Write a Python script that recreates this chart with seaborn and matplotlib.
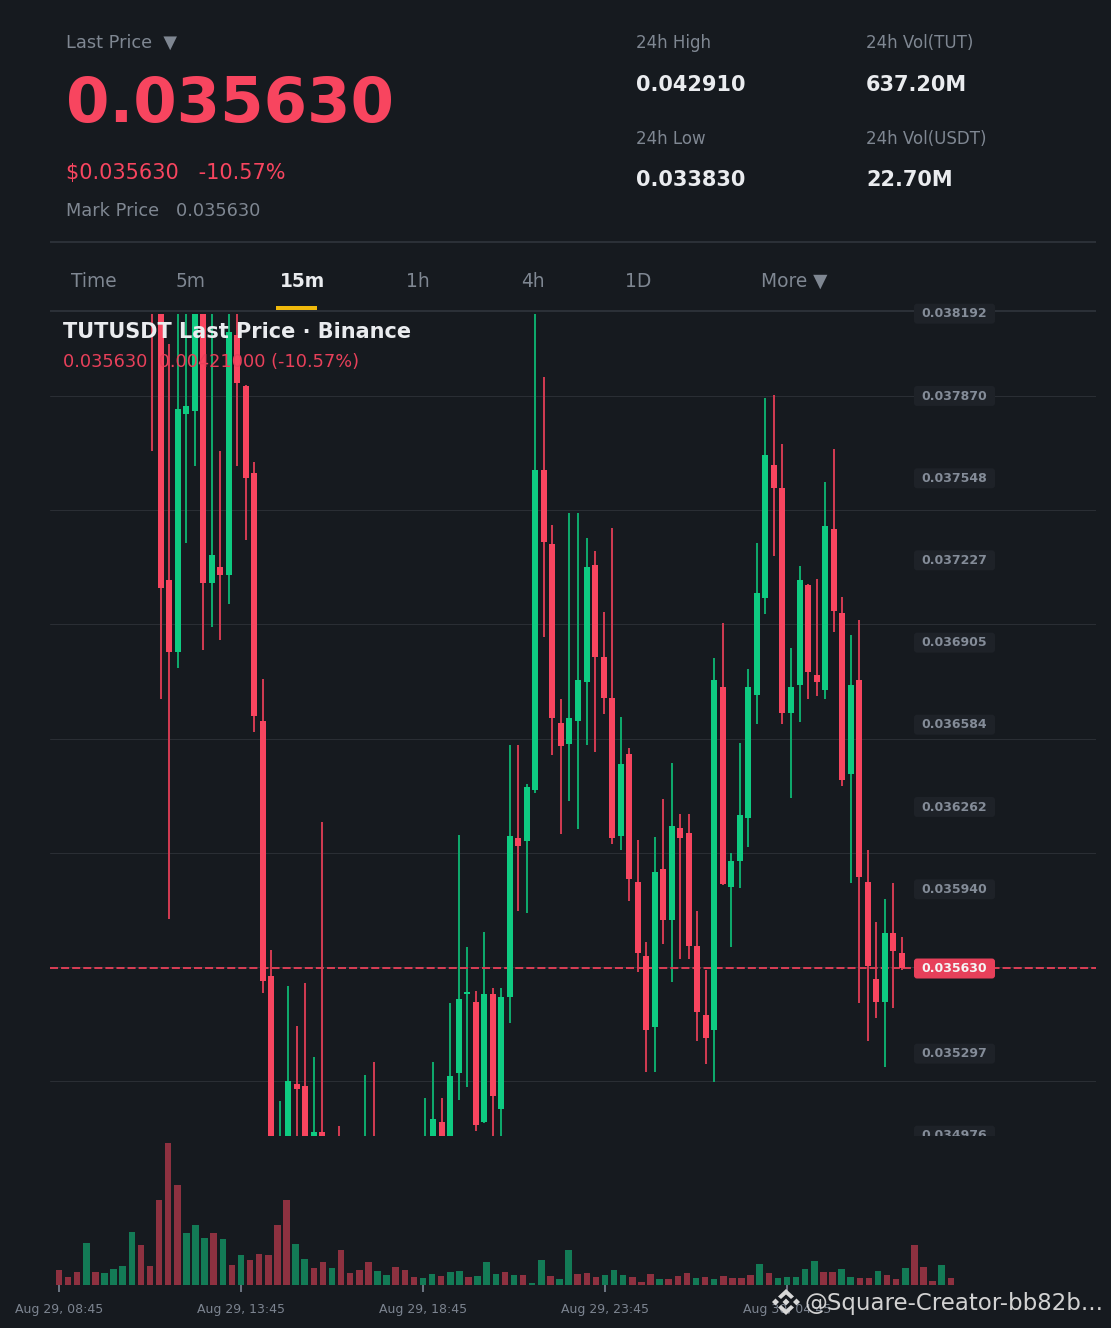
import numpy as np
import pandas as pd
import seaborn as sns
import matplotlib
matplotlib.use("Agg")
import matplotlib.pyplot as plt
from matplotlib.patches import FancyBboxPatch, Polygon
from matplotlib.transforms import IdentityTransform

W, H = 1111, 1328
BG = "#161A1F"
RED = "#F8455F"
GREEN = "#0ECB81"
RED_WICK = "#CE3A50"
GREEN_WICK = "#0EA86B"
MUTED = "#7F8792"
WHITE = "#EAECEF"

# candle prices in millionths of USDT
candle_open = [38280, 38220, 37147, 36866, 37797, 37809, 38240, 37136, 37198, 37167,
               38106, 37906, 37566, 36596, 35598, 34900, 34930, 35176, 35168, 34940,
               34988, 34950, 34960, 34900, 34930, 34900, 34950, 34910, 34890, 34900,
               34930, 34900, 34900, 34900, 35027, 34920, 35219, 35528, 35497, 35027,
               35528, 35078, 35516, 36138, 36127, 36326, 37578, 37289, 36588, 36506,
               36596, 36749, 37206, 36847, 36686, 36146, 36467, 35966, 35677, 35399,
               36017, 35818, 36177, 36158, 35716, 35446, 35387, 36729, 35947, 36048,
               36217, 36698, 37077, 37598, 37508, 36627, 36737, 37128, 36776, 36717,
               37347, 37019, 36389, 36757, 35966, 35587, 35497, 35767, 35688]
candle_high = [38300, 38280, 38071, 38250, 38230, 38260, 38280, 38220, 37652, 38230,
               38220, 37910, 37609, 36760, 35700, 35109, 35559, 35403, 35571, 35281,
               36201, 34960, 35011, 34950, 34950, 35211, 35262, 34950, 34950, 34950,
               34960, 34950, 35121, 35262, 35121, 35493, 36150, 35712, 35540, 35771,
               35551, 35551, 36502, 36502, 36350, 38200, 37942, 37363, 36682, 37410,
               37410, 37312, 37261, 37023, 37351, 36612, 36490, 36131, 35731, 36142,
               36291, 36432, 36232, 36232, 35853, 35622, 36843, 36980, 36080, 36510,
               36800, 37292, 37860, 37872, 37680, 36882, 37203, 37132, 37152, 37531,
               37660, 37081, 36933, 36991, 36091, 35810, 35900, 35962, 35751]
candle_low = [37652, 36683, 35821, 36803, 37292, 37593, 36873, 36963, 36913, 37054,
              37593, 37304, 36553, 35532, 34900, 34880, 34900, 34940, 34900, 34900,
              34900, 34900, 34880, 34880, 34870, 34860, 34870, 34870, 34860, 34870,
              34880, 34870, 34870, 34880, 34890, 34890, 35113, 35164, 34992, 35023,
              34950, 34950, 35415, 35853, 35845, 36314, 36925, 36463, 36154, 36283,
              36174, 36502, 36475, 36623, 36115, 36091, 35892, 35614, 35223, 35223,
              35724, 35575, 35665, 35665, 35344, 35254, 35184, 35955, 35712, 35943,
              36103, 36584, 37015, 37242, 36584, 36295, 36592, 36682, 36694, 36682,
              36944, 36342, 35962, 35493, 35344, 35434, 35242, 35473, 35622]
candle_close = [38220, 37117, 36866, 37816, 37828, 38230, 37136, 37245, 37167, 38118,
                37918, 37547, 36615, 35579, 34940, 34960, 35187, 35156, 34950, 34988,
                34950, 34930, 34920, 34930, 34900, 34950, 34910, 34890, 34920, 34930,
                34900, 34930, 34950, 35039, 34920, 35207, 35508, 35536, 35015, 35528,
                35129, 35516, 36146, 36107, 36338, 37578, 37296, 36608, 36498, 36608,
                36757, 37198, 36847, 36686, 36138, 36428, 35978, 35688, 35387, 36005,
                35818, 36185, 36138, 35716, 35458, 35356, 36757, 35958, 36048, 36228,
                36729, 37097, 37637, 37508, 36627, 36729, 37147, 36788, 36749, 37359,
                37026, 36365, 36737, 35986, 35638, 35497, 35767, 35696, 35630]

# volume bar heights (arbitrary units, no scale shown on the chart)
volume = [15, 8, 13, 42, 13, 12, 16, 19, 53, 40,
          19, 85, 142, 100, 52, 60, 47, 52, 46, 20,
          30, 25, 31, 30, 60, 85, 41, 26, 17, 23,
          17, 35, 12, 15, 23, 14, 10, 18, 15, 8,
          7, 11, 9, 13, 14, 8, 9, 23, 11, 13,
          10, 10, 2, 25, 9, 6, 35, 11, 12, 8,
          10, 15, 10, 8, 3, 11, 6, 6, 9, 12,
          7, 8, 6, 9, 7, 7, 10, 21, 12, 7,
          8, 8, 16, 24, 13, 13, 16, 8, 7, 7,
          14, 10, 6, 17, 40, 18, 4, 20, 7]
red_bars = [0, 1, 2, 4, 9, 10, 11, 12, 13, 17, 19, 21, 22, 23, 24, 25, 28, 29, 31, 32, 33, 34,
            37, 38, 39, 42, 45, 49, 51, 54, 57, 58, 59, 63, 64, 65, 67, 68, 69, 71, 73, 74, 75,
            76, 78, 84, 85, 88, 89, 91, 92, 94, 95, 96, 98]
volume_dir = ["down" if i in red_bars else "up" for i in range(len(volume))]

grid_prices = [37868, 37421, 36974, 36527, 36080, 35633, 35186]
axis_labels = [38192, 37870, 37548, 37227, 36905, 36584, 36262, 35940, 35297, 34976]
last_price = 35630

time_ticks = [0, 20, 40, 60, 80]
time_labels = ["Aug 29, 08:45", "Aug 29, 13:45", "Aug 29, 18:45", "Aug 29, 23:45", "Aug 30, 04:45"]

sns.set_theme(style="dark", rc={"axes.facecolor": BG, "figure.facecolor": BG,
                                "savefig.facecolor": BG, "axes.grid": False})
plt.rcParams["font.family"] = ["DejaVu Sans"]

fig = plt.figure(figsize=(W / 100, H / 100), dpi=100)


def ftext(x, y, s, color=MUTED, size=12.8, weight="normal", ha="left", zorder=20):
    # x, y are pixels from the top left corner, y is the baseline
    return fig.text(x / W, 1 - y / H, s, color=color, fontsize=size, fontweight=weight,
                    ha=ha, va="baseline", zorder=zorder)


# price pane
ax = fig.add_axes([50 / W, 1 - 1136 / H, 1046 / W, 822 / H])
candles = pd.DataFrame({"open": candle_open, "high": candle_high,
                        "low": candle_low, "close": candle_close}) / 1e6
candles["n"] = np.arange(len(candles))
candles["up"] = candles["close"] >= candles["open"]
step = 8.52
ax.set_xlim((50 - 152) / step, (1096 - 152) / step)
ax.set_ylim(34972 / 1e6, 38188 / 1e6)
ax.set_yticks(np.array(grid_prices) / 1e6)
ax.grid(axis="y", color="#2A2E34", lw=0.75, zorder=0)
ax.set_axisbelow(True)
ax.tick_params(left=False, bottom=False, labelleft=False, labelbottom=False)

for is_up, part in candles.groupby("up"):
    body = GREEN if is_up else RED
    wick = GREEN_WICK if is_up else RED_WICK
    ax.vlines(part["n"], part["low"], part["high"], color=wick, lw=1.45, zorder=2)
    bottom = part[["open", "close"]].min(axis=1)
    top = part[["open", "close"]].max(axis=1)
    ax.bar(part["n"], top - bottom, bottom=bottom, width=0.7, color=body, lw=0, zorder=4)

ax.axhline(last_price / 1e6, color="#D53D54", lw=1.45, ls=(0, (4, 1.5)), zorder=3)
sns.despine(ax=ax, left=True, bottom=True)


def price_tag(price, label, face, color, clip=False):
    y = ax.transData.transform((0, price / 1e6))[1]
    box = FancyBboxPatch((914, y - 10.7), 81, 20, boxstyle="round,pad=0,rounding_size=3",
                         fc=face, ec="none", transform=IdentityTransform(), zorder=6, clip_on=False)
    txt = ax.text(954.5, y - 4.5, label, color=color, fontsize=9, fontweight="bold", ha="center",
                  va="baseline", transform=IdentityTransform(), zorder=7, clip_on=False)
    ax.add_patch(box)
    if clip:
        box.set_clip_on(True)
        box.set_clip_box(ax.bbox)
        txt.set_clip_on(True)
        txt.set_clip_box(ax.bbox)


for p in axis_labels:
    price_tag(p, f"{p / 1e6:.6f}", "#1E2228", "#848C98", clip=p == axis_labels[-1])
price_tag(last_price, f"{last_price / 1e6:.6f}", "#E7405A", "#F5F5F5")

# volume pane, its bars are spaced a little wider than the candles above
ax_vol = fig.add_axes([50 / W, 1 - 1285 / H, 1046 / W, 147 / H])
vol_df = pd.DataFrame({"n": np.arange(len(volume)), "volume": volume, "dir": volume_dir})
sns.barplot(data=vol_df, x="n", y="volume", hue="dir", native_scale=True, dodge=False,
            palette={"up": "#137B56", "down": "#8E3140"}, saturation=1, width=0.72,
            legend=False, linewidth=0, ax=ax_vol)
vol_step = 9.1
ax_vol.set_xlim((50 - 59) / vol_step, (1096 - 59) / vol_step)
ax_vol.set_ylim(0, 147)
ax_vol.set_xlabel("")
ax_vol.set_ylabel("")
ax_vol.set_yticks([])
ax_vol.set_xticks(time_ticks)
ax_vol.set_xticklabels(time_labels, color="#7C8490", fontsize=9)
ax_vol.tick_params(axis="x", length=5.2, width=1.45, color="#6B7380", pad=7.5, bottom=True)
sns.despine(ax=ax_vol, left=True, bottom=True)

# header
ftext(66, 48, "Last Price  ▼")
ftext(66, 122, "0.035630", color=RED, size=44.9, weight="bold")
ftext(66, 179, "$0.035630   -10.57%", color=RED, size=15.05)
ftext(66, 216, "Mark Price   0.035630")
ftext(636, 48, "24h High", size=12)
ftext(636, 91, "0.042910", color=WHITE, size=15, weight="bold")
ftext(636, 144, "24h Low", size=12)
ftext(636, 186, "0.033830", color=WHITE, size=15, weight="bold")
ftext(866, 48, "24h Vol(TUT)", size=12)
ftext(866, 91, "637.20M", color=WHITE, size=15, weight="bold")
ftext(866, 144, "24h Vol(USDT)", size=12)
ftext(866, 186, "22.70M", color=WHITE, size=15, weight="bold")

# tabs
ftext(71, 287, "Time", size=13.4)
ftext(176, 287, "5m", size=13.4)
ftext(280, 287, "15m", color=WHITE, size=13.4, weight="bold")
ftext(406, 287, "1h", size=13.4)
ftext(521.5, 287, "4h", size=13.4)
ftext(625, 287, "1D", size=13.4)
ftext(761, 287, "More ▼", size=13.4)

# separators sit under the axes so the top price tag stays on top of them
for y0, y1, x0, x1, c in [(241, 243, 50, 1096, "#2B3037"), (310, 312, 50, 1096, "#2B3037"),
                          (306, 310, 276, 317, "#F0B90B")]:
    fig.patches.append(plt.Rectangle((x0 / W, 1 - y1 / H), (x1 - x0) / W, (y1 - y0) / H,
                                     transform=fig.transFigure, fc=c, ec="none", zorder=-1))

ftext(63, 338, "TUTUSDT Last Price · Binance", color=WHITE, size=15, weight="bold")
ftext(63, 367, "0.035630  0.00421000 (-10.57%)", color="#E8405A", size=12.8)

# watermark with the little diamond logo
ftext(805, 1310, "@Square-Creator-bb82b...", color="#D2D2D2", size=16.5)


def diamond(cx, cy, r):
    return [(cx - r, H - cy), (cx, H - cy + r), (cx + r, H - cy), (cx, H - cy - r)]


logo = "#D8D8D8"
for cx, cy, r in [(786, 1302, 3.5), (775.5, 1302, 3.5), (796.5, 1302, 3.5)]:
    fig.patches.append(Polygon(diamond(cx, cy, r), transform=IdentityTransform(), fc=logo, ec="none", zorder=21))
for sign in (-1, 1):
    chevron = [(778, H - (1302 + sign * 5.5)), (786, H - (1302 + sign * 13)),
               (794, H - (1302 + sign * 5.5)), (791, H - (1302 + sign * 3)),
               (786, H - (1302 + sign * 7.5)), (781, H - (1302 + sign * 3))]
    fig.patches.append(Polygon(chevron, transform=IdentityTransform(), fc=logo, ec="none", zorder=21))

fig.savefig("out.png", dpi=100)
